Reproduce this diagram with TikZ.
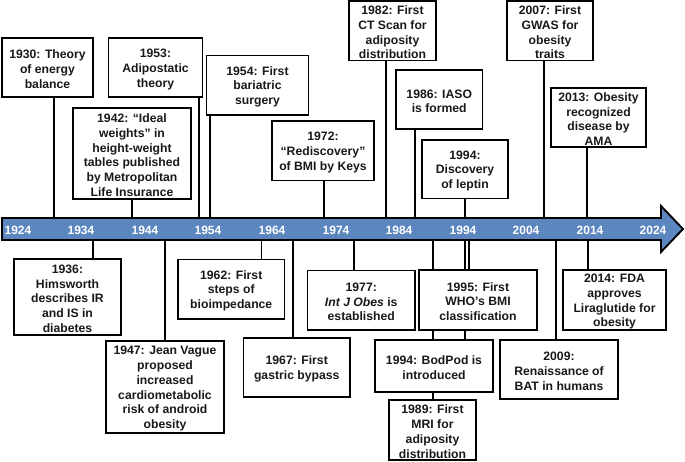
\documentclass[tikz,border=0pt]{standalone}
\usepackage{fontspec}
\setmainfont{Liberation Sans}
\definecolor{axisblue}{HTML}{5B86C0}
\tikzset{
  evbox/.style={draw=black,fill=white,line width=1.4pt,inner sep=0pt,align=center,
    font=\fontsize{9.15}{11.1}\selectfont\bfseries,text=black!90},
  stem/.style={draw=black,line width=1.4pt},
  yearlbl/.style={inner sep=0pt,text=white,font=\fontsize{9}{11}\selectfont\bfseries},
  axisshape/.style={draw=black,fill=axisblue,line width=1.4pt,line join=miter}
}
\newcommand{\evnode}[6]{%
  \node[evbox,minimum width={(#4-#2)*0.75pt},minimum height={(#5-#3)*0.75pt}] (#1) at ({(#2+#4)/2},{(#3+#5)/2}) {\rule{0pt}{9pt}#6};}
\newcommand{\upstem}[2]{\coordinate (s#1) at (#2,218); \draw[stem] (s#1) -- (s#1 |- b#1.south);}
\newcommand{\downstem}[2]{\coordinate (s#1) at (#2,240); \draw[stem] (s#1) -- (s#1 |- b#1.north);}
\begin{document}
\begin{tikzpicture}[x=0.75pt,y=-0.75pt]
\useasboundingbox (0,0) rectangle (685,461);
% boxes above
\evnode{b1930}{2}{38}{93}{97}{1930: Theory\\of energy\\balance}
\evnode{b1953}{108.5}{38}{202.5}{97}{1953:\\Adipostatic\\theory}
\evnode{b1954}{206.5}{55.5}{308.5}{115}{1954: First\\bariatric\\surgery}
\evnode{b1942}{73}{108}{191}{199}{1942: “Ideal\\weights” in\\height-weight\\tables published\\by Metropolitan\\Life Insurance}
\evnode{b1972}{272}{121}{374}{180.5}{1972:\\“Rediscovery”\\of BMI by Keys}
\evnode{b1982}{349}{1}{436}{60.5}{1982: First\\CT Scan for\\adiposity\\distribution}
\evnode{b1986}{396}{70}{482.5}{129}{1986: IASO\\is formed}
\evnode{b1994}{422}{140}{508}{198.5}{1994:\\Discovery\\of leptin}
\evnode{b2007}{507}{1}{593}{60.5}{2007: First\\GWAS for\\obesity\\traits}
\evnode{b2013}{551}{88}{646}{147}{2013: Obesity\\recognized\\disease by\\AMA}
% boxes below
\evnode{b1936}{14}{259}{121}{335}{1936:\\Himsworth\\describes IR\\and IS in\\diabetes}
\evnode{b1947}{106}{341}{224}{433}{1947: Jean Vague\\proposed\\increased\\cardiometabolic\\risk of android\\obesity}
\evnode{b1962}{178}{259.5}{284.5}{319}{1962: First\\steps of\\bioimpedance}
\evnode{b1967}{243.5}{338}{350}{397}{1967: First\\gastric bypass}
\evnode{b1977}{307.5}{270.5}{415}{330}{1977:\\\textit{Int J Obes} is\\established}
\evnode{b2009}{500}{340}{618}{399}{2009:\\Renaissance of\\BAT in humans}
\evnode{b2014}{563}{270}{666}{330}{2014: FDA\\approves\\Liraglutide for\\obesity}
% stems that pass behind other boxes
\evnode{b1989}{389}{400}{476}{460}{1989: First\\MRI for\\adiposity\\distribution}
\downstem{1989}{433}
\evnode{bBodPod}{375}{340}{493}{392}{1994: BodPod is\\introduced}
\downstem{BodPod}{465}
\evnode{b1995}{419}{270}{537}{330}{1995: First\\WHO’s BMI\\classification}
\downstem{1995}{469}
% stems
\upstem{1930}{54}
\upstem{1953}{199}
\upstem{1954}{210}
\upstem{1942}{132}
\upstem{1972}{324}
\upstem{1982}{386}
\upstem{1986}{415}
\upstem{1994}{465}
\upstem{2007}{544}
\upstem{2013}{587}
\downstem{1936}{93}
\downstem{1947}{165}
\downstem{1962}{261.5}
\downstem{1967}{293}
\downstem{1977}{354}
\downstem{2009}{556}
\downstem{2014}{588}
% timeline arrow
\draw[axisshape] (2,218) -- (661,218) -- (661,206) -- (683,229) -- (661,252) -- (661,240) -- (2,240) -- cycle;
\node[yearlbl] (y1924) at (18,230) {1924};
\node[yearlbl] (y1934) at (81,230) {1934};
\node[yearlbl] (y1944) at (145,230) {1944};
\node[yearlbl] (y1954) at (208,230) {1954};
\node[yearlbl] (y1964) at (272,230) {1964};
\node[yearlbl] (y1974) at (336,230) {1974};
\node[yearlbl] (y1984) at (399,230) {1984};
\node[yearlbl] (y1994) at (463,230) {1994};
\node[yearlbl] (y2004) at (526,230) {2004};
\node[yearlbl] (y2014) at (590,230) {2014};
\node[yearlbl] (y2024) at (653,230) {2024};
\end{tikzpicture}
\end{document}
